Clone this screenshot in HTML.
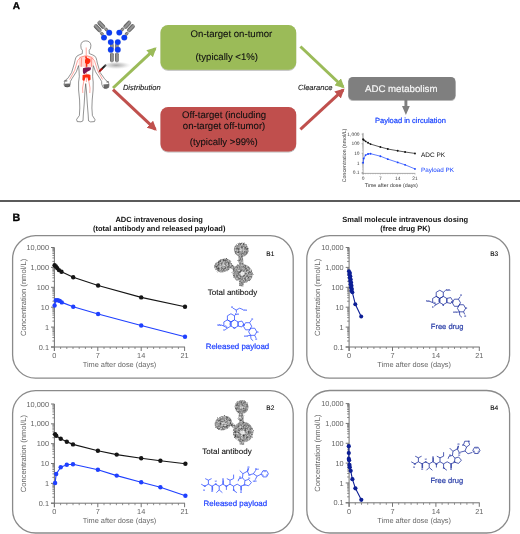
<!DOCTYPE html>
<html><head><meta charset="utf-8"><title>ADC PK figure</title>
<style>html,body{margin:0;padding:0;background:#fff;} svg{display:block;}</style></head>
<body>
<svg width="520" height="534" viewBox="0 0 520 534">
<defs>
<filter id="tex" x="-30%" y="-30%" width="160%" height="160%" color-interpolation-filters="sRGB"><feTurbulence type="fractalNoise" baseFrequency="0.7" numOctaves="2" seed="7" result="n"/><feDisplacementMap in="SourceGraphic" in2="n" scale="2.2" xChannelSelector="R" yChannelSelector="G" result="d"/><feTurbulence type="fractalNoise" baseFrequency="0.6" numOctaves="3" seed="2" result="n2"/><feColorMatrix in="n2" type="matrix" values="0.85 0 0 0 0.15  0.85 0 0 0 0.15  0.85 0 0 0 0.15  0 0 0 0 1" result="g"/><feComposite in="g" in2="d" operator="in"/></filter>
<linearGradient id="cap" x1="0" y1="0" x2="1" y2="0"><stop offset="0" stop-color="#4a4a4a"/><stop offset="0.35" stop-color="#8c8c8c"/><stop offset="0.6" stop-color="#9a9a9a"/><stop offset="1" stop-color="#555"/></linearGradient>
<radialGradient id="shadow" cx="45%" cy="45%" r="55%"><stop offset="0" stop-color="#999" stop-opacity="0.85"/><stop offset="0.5" stop-color="#b8b8b8" stop-opacity="0.55"/><stop offset="1" stop-color="#ddd" stop-opacity="0"/></radialGradient>
<filter id="sh" x="-10%" y="-10%" width="120%" height="130%"><feDropShadow dx="0" dy="0.8" stdDeviation="0.6" flood-color="#000" flood-opacity="0.35"/></filter>
<marker id="ahG" viewBox="0 0 10 10" refX="8" refY="5" markerWidth="3.2" markerHeight="3.2" orient="auto"><path d="M0,0 L10,5 L0,10 Z" fill="#9bbb59"/></marker>
<marker id="ahR" viewBox="0 0 10 10" refX="8" refY="5" markerWidth="3.2" markerHeight="3.2" orient="auto"><path d="M0,0 L10,5 L0,10 Z" fill="#c0504d"/></marker>
</defs>
<rect width="520" height="534" fill="#fff"/>
<g font-family='"Liberation Sans", Arial, sans-serif' text-rendering="geometricPrecision">
<text x="12.7" y="9.3" font-size="10" fill="#000" font-weight="bold" font-style="normal" text-anchor="start" stroke="#000" stroke-width="0.35">A</text>
<path fill="#fff" stroke="#3a3a3a" stroke-width="0.55" stroke-linejoin="round" d="M82.4,50.4 Q80.6,48.8 80.8,45.4 Q81.2,40.9 85.8,40.9 Q90.5,40.9 90.9,45.4 Q91,48.8 89.2,50.4 L89.3,53.6 Q92.2,54.6 94.6,55.9 Q96.4,57.5 96.8,60.5 L97.3,63 L100.2,72.6 L104.3,78.4 L106.6,81 L108.6,82.6 L109,85 L108.6,87.4 L106.4,88.6 L103.2,87.6 L101.8,84.4 L101.6,81.4 L99.8,78.4 L95.5,71.7 L93.3,65.5 L92.9,70 L92.6,76.5 L93.2,82 L93.1,90 L92.2,100 L91.9,108 L92.4,115.5 L95.1,119.8 L94.4,121.6 L90.6,121.9 L88.5,120.8 L88.2,115 L87.3,104 L86.5,92 L85.7,83.6 L84.9,92 L84.2,104 L83.3,115 L83,120.8 L81,121.8 L77.2,121.6 L76.6,119.4 L79.4,115.5 L79.8,108 L79.6,100 L78.6,90 L78.6,82 L79.3,76.5 L79,70 L78.6,65.5 L76.4,71.7 L72.1,78.4 L70.4,81.4 L70.2,84.5 L69.2,86.4 L67.2,87 L64.6,86.2 L64,84.2 L64.6,82.6 L64.3,81.4 L65.6,79.9 L67.8,78.4 L71.6,72.6 L74.5,63 L75,60.5 Q75.4,57.5 77.2,55.9 Q79.5,54.6 82.3,53.6 Z"/>
<path d="M79,56.8 Q86,54.6 93.5,56.8 L93.8,66 Q86,68 78.6,66 Z" fill="#ffb8ae" opacity="0.55"/>
<g stroke="#ff3b2f" fill="none" stroke-width="0.5" opacity="0.9"><path d="M86.2,47.5 L86.4,82"/><path d="M85.6,55.6 Q80,56.6 77.6,60.5 L74.6,70.5 L69.6,79.5"/><path d="M86.8,55.6 Q92,56.6 94.4,60.5 L97.6,70.5 L102.6,79.5"/><path d="M84,80 L82.6,88 L82.8,93"/><path d="M88.6,80 L90,88 L89.8,93"/><path d="M81.6,58 L81.2,67"/><path d="M91.2,58 L91.6,67"/></g>
<path d="M86.2,58 Q88.8,57.6 90.4,59.6 Q91,62.4 88.8,63.8 Q86.4,64.6 85,62.8 Q84.2,60 86.2,58 Z" fill="#ff2a10"/><path d="M85.6,56.4 L86.6,58.8 L86.6,66.8" stroke="#ff2a10" stroke-width="1.5" fill="none"/><path d="M83,68.2 Q87,66.6 91.2,67.4 Q91,70 89.2,70.8 Q86.6,71.8 84.6,74 L83.2,73.4 Q82.6,70.6 83,68.2 Z" fill="#7d1752"/><path d="M82.6,75 Q84.6,74 86.2,74.6 Q88.4,73.8 90.4,75 L90.6,79.6 Q89.6,81 88.2,80.4 L87.4,77.6 L85.4,77.6 L84.6,80.6 Q83,81 82.4,79.8 Z" fill="#ff2a10"/>
<g fill="#444" opacity="0.8"><path d="M64.2,83.8 L69.8,83.4 L70.3,86.4 L68,87 L65,86.9 Z"/><path d="M64.3,80.2 L67.2,79.8 L67.4,81.6 L64.6,81.9 Z" opacity="0.7"/><path d="M103.3,84.4 L108.9,84 L108.6,87.6 L106,88.5 L104,88.4 Z"/><path d="M106.4,81.3 L108.9,81 L108.9,82.6 L106.5,82.7 Z" opacity="0.7"/></g>
<line x1="105.6" y1="65.3" x2="101.4" y2="69.3" stroke="#1e1e1e" stroke-width="1.9" stroke-linecap="round"/><line x1="101.6" y1="69.1" x2="99.7" y2="71.1" stroke="#b3120f" stroke-width="2.1" stroke-linecap="round"/><line x1="99.6" y1="71.2" x2="98.4" y2="72.6" stroke="#888" stroke-width="0.6"/>
<ellipse cx="117.6" cy="65.6" rx="13.5" ry="3.6" fill="url(#shadow)"/>
<g transform="translate(98.06,21.29) rotate(-42.97)"><rect x="-2.1" y="0" width="4.2" height="9.59" rx="2.1" fill="url(#cap)"/></g>
<g transform="translate(94.4,24.69) rotate(-42.97)"><rect x="-2.1" y="0" width="4.2" height="9.59" rx="2.1" fill="url(#cap)"/></g>
<g transform="translate(130.54,21.29) rotate(42.97)"><rect x="-2.1" y="0" width="4.2" height="9.59" rx="2.1" fill="url(#cap)"/></g>
<g transform="translate(134.2,24.69) rotate(42.97)"><rect x="-2.1" y="0" width="4.2" height="9.59" rx="2.1" fill="url(#cap)"/></g>
<g transform="translate(104.6,28) rotate(-48.58)"><rect x="-1.5" y="0" width="3" height="4.53" rx="1.5" fill="url(#cap)"/></g>
<g transform="translate(100.4,32.2) rotate(-45)"><rect x="-1.5" y="0" width="3" height="4.24" rx="1.5" fill="url(#cap)"/></g>
<g transform="translate(124,28) rotate(48.58)"><rect x="-1.5" y="0" width="3" height="4.53" rx="1.5" fill="url(#cap)"/></g>
<g transform="translate(128.2,32.2) rotate(45)"><rect x="-1.5" y="0" width="3" height="4.24" rx="1.5" fill="url(#cap)"/></g>
<g transform="translate(111.9,43) rotate(0)"><rect x="-1.7" y="0" width="3.4" height="7" rx="1.7" fill="url(#cap)"/></g>
<g transform="translate(116.9,43) rotate(0)"><rect x="-1.7" y="0" width="3.4" height="7" rx="1.7" fill="url(#cap)"/></g>
<g transform="translate(111.9,52.4) rotate(0)"><rect x="-1.8" y="0" width="3.6" height="10" rx="1.8" fill="url(#cap)"/></g>
<g transform="translate(116.9,52.4) rotate(0)"><rect x="-1.8" y="0" width="3.6" height="10" rx="1.8" fill="url(#cap)"/></g>
<circle cx="109.2" cy="32.8" r="2.95" fill="#0a3cf5" stroke="#c8b878" stroke-width="0.1"/>
<circle cx="104.0" cy="37.6" r="2.95" fill="#0a3cf5" stroke="#c8b878" stroke-width="0.1"/>
<circle cx="119.3" cy="32.6" r="2.95" fill="#0a3cf5" stroke="#c8b878" stroke-width="0.1"/>
<circle cx="124.3" cy="37.6" r="2.95" fill="#0a3cf5" stroke="#c8b878" stroke-width="0.1"/>
<circle cx="110.8" cy="42.1" r="2.95" fill="#0a3cf5" stroke="#c8b878" stroke-width="0.1"/>
<circle cx="117.8" cy="42.1" r="2.95" fill="#0a3cf5" stroke="#c8b878" stroke-width="0.1"/>
<circle cx="110.8" cy="49.7" r="2.95" fill="#0a3cf5" stroke="#c8b878" stroke-width="0.1"/>
<circle cx="117.8" cy="49.7" r="2.95" fill="#0a3cf5" stroke="#c8b878" stroke-width="0.1"/>
<line x1="113.0" y1="88.0" x2="155.2" y2="48.6" stroke="#9bbb59" stroke-width="3.0" marker-end="url(#ahG)"/>
<line x1="113.0" y1="89.6" x2="155.4" y2="129.4" stroke="#c0504d" stroke-width="3.0" marker-end="url(#ahR)"/>
<line x1="300.4" y1="46.5" x2="343.2" y2="87.0" stroke="#9bbb59" stroke-width="3.0" marker-end="url(#ahG)"/>
<line x1="300.4" y1="129.4" x2="343.2" y2="89.8" stroke="#c0504d" stroke-width="3.0" marker-end="url(#ahR)"/>
<text x="122.9" y="90.2" font-size="7.55" fill="#1a1a1a" font-weight="normal" font-style="italic" text-anchor="start" stroke="#1a1a1a" stroke-width="0.12">Distribution</text>
<text x="298" y="90.1" font-size="7.55" fill="#1a1a1a" font-weight="normal" font-style="italic" text-anchor="start" stroke="#1a1a1a" stroke-width="0.12">Clearance</text>
<rect x="160.5" y="25.0" width="135.7" height="44.8" rx="7.5" fill="#9bbb59" filter="url(#sh)"/>
<text x="190.6" y="36.5" font-size="9.6" fill="#111" font-weight="normal" font-style="normal" text-anchor="start" stroke="#111" stroke-width="0.1">On-target on-tumor</text>
<text x="195.4" y="60.1" font-size="9.6" fill="#111" font-weight="normal" font-style="normal" text-anchor="start" stroke="#111" stroke-width="0.1">(typically &lt;1%)</text>
<rect x="160.5" y="107" width="135.7" height="44.5" rx="7.5" fill="#c0504d" filter="url(#sh)"/>
<text x="182" y="118.2" font-size="9.6" fill="#111" font-weight="normal" font-style="normal" text-anchor="start" stroke="#111" stroke-width="0.1">Off-target (including</text>
<text x="182.8" y="129.4" font-size="9.6" fill="#111" font-weight="normal" font-style="normal" text-anchor="start" stroke="#111" stroke-width="0.1">on-target off-tumor)</text>
<text x="189.8" y="144.6" font-size="9.6" fill="#111" font-weight="normal" font-style="normal" text-anchor="start" stroke="#111" stroke-width="0.1">(typically &gt;99%)</text>
<rect x="348.3" y="77" width="107.2" height="23" rx="4.5" fill="#7f7f7f" filter="url(#sh)"/>
<text x="365" y="92.2" font-size="9.66" fill="#f6f6f6" font-weight="normal" font-style="normal" text-anchor="start" stroke="#f6f6f6" stroke-width="0.2">ADC metabolism</text>
<path d="M404.45,99.5 L407.35,99.5 L407.35,106.1 L409.8,106.1 L405.9,114.9 L402.0,106.1 L404.45,106.1 Z" fill="#7f7f7f"/>
<text x="375" y="122.9" font-size="7.5" fill="#1a44ff" font-weight="normal" font-style="normal" text-anchor="start" stroke="#1a44ff" stroke-width="0.2">Payload in circulation</text>
<line x1="363.1" y1="132.9" x2="363.1" y2="174.5" stroke="#888" stroke-width="0.7"/>
<line x1="361.6" y1="173.4" x2="415.27" y2="173.4" stroke="#888" stroke-width="0.7"/>
<line x1="361.6" y1="134.1" x2="363.1" y2="134.1" stroke="#888" stroke-width="0.6"/>
<line x1="362.2" y1="140.81" x2="363.1" y2="140.81" stroke="#999" stroke-width="0.4"/>
<line x1="362.2" y1="139.12" x2="363.1" y2="139.12" stroke="#999" stroke-width="0.4"/>
<line x1="362.2" y1="137.92" x2="363.1" y2="137.92" stroke="#999" stroke-width="0.4"/>
<line x1="362.2" y1="136.99" x2="363.1" y2="136.99" stroke="#999" stroke-width="0.4"/>
<line x1="362.2" y1="136.23" x2="363.1" y2="136.23" stroke="#999" stroke-width="0.4"/>
<line x1="362.2" y1="135.59" x2="363.1" y2="135.59" stroke="#999" stroke-width="0.4"/>
<line x1="362.2" y1="135.03" x2="363.1" y2="135.03" stroke="#999" stroke-width="0.4"/>
<line x1="362.2" y1="134.54" x2="363.1" y2="134.54" stroke="#999" stroke-width="0.4"/>
<line x1="361.6" y1="143.7" x2="363.1" y2="143.7" stroke="#888" stroke-width="0.6"/>
<line x1="362.2" y1="150.41" x2="363.1" y2="150.41" stroke="#999" stroke-width="0.4"/>
<line x1="362.2" y1="148.72" x2="363.1" y2="148.72" stroke="#999" stroke-width="0.4"/>
<line x1="362.2" y1="147.52" x2="363.1" y2="147.52" stroke="#999" stroke-width="0.4"/>
<line x1="362.2" y1="146.59" x2="363.1" y2="146.59" stroke="#999" stroke-width="0.4"/>
<line x1="362.2" y1="145.83" x2="363.1" y2="145.83" stroke="#999" stroke-width="0.4"/>
<line x1="362.2" y1="145.19" x2="363.1" y2="145.19" stroke="#999" stroke-width="0.4"/>
<line x1="362.2" y1="144.63" x2="363.1" y2="144.63" stroke="#999" stroke-width="0.4"/>
<line x1="362.2" y1="144.14" x2="363.1" y2="144.14" stroke="#999" stroke-width="0.4"/>
<line x1="361.6" y1="153.3" x2="363.1" y2="153.3" stroke="#888" stroke-width="0.6"/>
<line x1="362.2" y1="160.01" x2="363.1" y2="160.01" stroke="#999" stroke-width="0.4"/>
<line x1="362.2" y1="158.32" x2="363.1" y2="158.32" stroke="#999" stroke-width="0.4"/>
<line x1="362.2" y1="157.12" x2="363.1" y2="157.12" stroke="#999" stroke-width="0.4"/>
<line x1="362.2" y1="156.19" x2="363.1" y2="156.19" stroke="#999" stroke-width="0.4"/>
<line x1="362.2" y1="155.43" x2="363.1" y2="155.43" stroke="#999" stroke-width="0.4"/>
<line x1="362.2" y1="154.79" x2="363.1" y2="154.79" stroke="#999" stroke-width="0.4"/>
<line x1="362.2" y1="154.23" x2="363.1" y2="154.23" stroke="#999" stroke-width="0.4"/>
<line x1="362.2" y1="153.74" x2="363.1" y2="153.74" stroke="#999" stroke-width="0.4"/>
<line x1="361.6" y1="162.9" x2="363.1" y2="162.9" stroke="#888" stroke-width="0.6"/>
<line x1="362.2" y1="169.61" x2="363.1" y2="169.61" stroke="#999" stroke-width="0.4"/>
<line x1="362.2" y1="167.92" x2="363.1" y2="167.92" stroke="#999" stroke-width="0.4"/>
<line x1="362.2" y1="166.72" x2="363.1" y2="166.72" stroke="#999" stroke-width="0.4"/>
<line x1="362.2" y1="165.79" x2="363.1" y2="165.79" stroke="#999" stroke-width="0.4"/>
<line x1="362.2" y1="165.03" x2="363.1" y2="165.03" stroke="#999" stroke-width="0.4"/>
<line x1="362.2" y1="164.39" x2="363.1" y2="164.39" stroke="#999" stroke-width="0.4"/>
<line x1="362.2" y1="163.83" x2="363.1" y2="163.83" stroke="#999" stroke-width="0.4"/>
<line x1="362.2" y1="163.34" x2="363.1" y2="163.34" stroke="#999" stroke-width="0.4"/>
<line x1="361.6" y1="172.5" x2="363.1" y2="172.5" stroke="#888" stroke-width="0.6"/>
<line x1="363.1" y1="173.4" x2="363.1" y2="175.1" stroke="#999" stroke-width="0.4"/>
<line x1="365.57" y1="173.4" x2="365.57" y2="174.3" stroke="#999" stroke-width="0.4"/>
<line x1="368.04" y1="173.4" x2="368.04" y2="174.3" stroke="#999" stroke-width="0.4"/>
<line x1="370.51" y1="173.4" x2="370.51" y2="174.3" stroke="#999" stroke-width="0.4"/>
<line x1="372.98" y1="173.4" x2="372.98" y2="174.3" stroke="#999" stroke-width="0.4"/>
<line x1="375.45" y1="173.4" x2="375.45" y2="174.3" stroke="#999" stroke-width="0.4"/>
<line x1="377.92" y1="173.4" x2="377.92" y2="174.3" stroke="#999" stroke-width="0.4"/>
<line x1="380.39" y1="173.4" x2="380.39" y2="175.1" stroke="#999" stroke-width="0.4"/>
<line x1="382.86" y1="173.4" x2="382.86" y2="174.3" stroke="#999" stroke-width="0.4"/>
<line x1="385.33" y1="173.4" x2="385.33" y2="174.3" stroke="#999" stroke-width="0.4"/>
<line x1="387.8" y1="173.4" x2="387.8" y2="174.3" stroke="#999" stroke-width="0.4"/>
<line x1="390.27" y1="173.4" x2="390.27" y2="174.3" stroke="#999" stroke-width="0.4"/>
<line x1="392.74" y1="173.4" x2="392.74" y2="174.3" stroke="#999" stroke-width="0.4"/>
<line x1="395.21" y1="173.4" x2="395.21" y2="174.3" stroke="#999" stroke-width="0.4"/>
<line x1="397.68" y1="173.4" x2="397.68" y2="175.1" stroke="#999" stroke-width="0.4"/>
<line x1="400.15" y1="173.4" x2="400.15" y2="174.3" stroke="#999" stroke-width="0.4"/>
<line x1="402.62" y1="173.4" x2="402.62" y2="174.3" stroke="#999" stroke-width="0.4"/>
<line x1="405.09" y1="173.4" x2="405.09" y2="174.3" stroke="#999" stroke-width="0.4"/>
<line x1="407.56" y1="173.4" x2="407.56" y2="174.3" stroke="#999" stroke-width="0.4"/>
<line x1="410.03" y1="173.4" x2="410.03" y2="174.3" stroke="#999" stroke-width="0.4"/>
<line x1="412.5" y1="173.4" x2="412.5" y2="174.3" stroke="#999" stroke-width="0.4"/>
<line x1="414.97" y1="173.4" x2="414.97" y2="175.1" stroke="#999" stroke-width="0.4"/>
<text x="359.6" y="135.8" font-size="4.9" fill="#333" font-weight="normal" font-style="normal" text-anchor="end" >1,000</text>
<text x="359.6" y="145.4" font-size="4.9" fill="#333" font-weight="normal" font-style="normal" text-anchor="end" >100</text>
<text x="359.6" y="155" font-size="4.9" fill="#333" font-weight="normal" font-style="normal" text-anchor="end" >10</text>
<text x="359.6" y="164.6" font-size="4.9" fill="#333" font-weight="normal" font-style="normal" text-anchor="end" >1</text>
<text x="359.6" y="174.2" font-size="4.9" fill="#333" font-weight="normal" font-style="normal" text-anchor="end" >0.1</text>
<text x="363.1" y="180.3" font-size="4.9" fill="#333" font-weight="normal" font-style="normal" text-anchor="middle" >0</text>
<text x="380.39" y="180.3" font-size="4.9" fill="#333" font-weight="normal" font-style="normal" text-anchor="middle" >7</text>
<text x="397.68" y="180.3" font-size="4.9" fill="#333" font-weight="normal" font-style="normal" text-anchor="middle" >14</text>
<text x="414.97" y="180.3" font-size="4.9" fill="#333" font-weight="normal" font-style="normal" text-anchor="middle" >21</text>
<text x="391.2" y="187" font-size="5.34" fill="#333" font-weight="normal" font-style="normal" text-anchor="middle" >Time after dose (days)</text>
<text transform="translate(345.8,155.4) rotate(-90)" font-size="5.27" fill="#333" text-anchor="middle">Concentration (nmol/L)</text>
<polyline points="363.1,139.19 363.72,139.88 365.57,141.34 368.04,142.74 370.51,144.09 380.39,147.03 387.8,149.01 397.68,150.78 405.09,151.99 414.97,153.43" fill="none" stroke="#111" stroke-width="0.7" stroke-linejoin="round"/>
<circle cx="363.1" cy="139.19" r="0.95" fill="#111"/><circle cx="363.72" cy="139.88" r="0.95" fill="#111"/><circle cx="365.57" cy="141.34" r="0.95" fill="#111"/><circle cx="368.04" cy="142.74" r="0.95" fill="#111"/><circle cx="370.51" cy="144.09" r="0.95" fill="#111"/><circle cx="380.39" cy="147.03" r="0.95" fill="#111"/><circle cx="387.8" cy="149.01" r="0.95" fill="#111"/><circle cx="397.68" cy="150.78" r="0.95" fill="#111"/><circle cx="405.09" cy="151.99" r="0.95" fill="#111"/><circle cx="414.97" cy="153.43" r="0.95" fill="#111"/>
<polyline points="363.1,162.74 363.72,158.46 365.57,155.1 368.04,153.93 370.51,153.69 380.39,156.19 387.8,159.15 397.68,162.39 405.09,164.83 414.97,168.92" fill="none" stroke="#1a44ff" stroke-width="0.7" stroke-linejoin="round"/>
<circle cx="363.1" cy="162.74" r="0.95" fill="#1a44ff"/><circle cx="363.72" cy="158.46" r="0.95" fill="#1a44ff"/><circle cx="365.57" cy="155.1" r="0.95" fill="#1a44ff"/><circle cx="368.04" cy="153.93" r="0.95" fill="#1a44ff"/><circle cx="370.51" cy="153.69" r="0.95" fill="#1a44ff"/><circle cx="380.39" cy="156.19" r="0.95" fill="#1a44ff"/><circle cx="387.8" cy="159.15" r="0.95" fill="#1a44ff"/><circle cx="397.68" cy="162.39" r="0.95" fill="#1a44ff"/><circle cx="405.09" cy="164.83" r="0.95" fill="#1a44ff"/><circle cx="414.97" cy="168.92" r="0.95" fill="#1a44ff"/>
<text x="421" y="157" font-size="6.45" fill="#111" font-weight="normal" font-style="normal" text-anchor="start" >ADC PK</text>
<text x="421" y="171.6" font-size="6.32" fill="#1a44ff" font-weight="normal" font-style="normal" text-anchor="start" >Payload PK</text>
<rect x="0" y="200.1" width="520" height="1.8" fill="#4a4a4a"/>
<text x="12.6" y="220.9" font-size="10.7" fill="#000" font-weight="bold" font-style="normal" text-anchor="start" stroke="#000" stroke-width="0.3">B</text>
<text x="159.2" y="222.3" font-size="7.5" fill="#111" font-weight="bold" font-style="normal" text-anchor="middle" >ADC intravenous dosing</text>
<text x="159.2" y="230.9" font-size="7.5" fill="#111" font-weight="bold" font-style="normal" text-anchor="middle" >(total antibody and released payload)</text>
<text x="405.2" y="222.3" font-size="7.5" fill="#111" font-weight="bold" font-style="normal" text-anchor="middle" >Small molecule intravenous dosing</text>
<text x="405.2" y="230.9" font-size="7.5" fill="#111" font-weight="bold" font-style="normal" text-anchor="middle" >(free drug PK)</text>
<rect x="12.6" y="235.7" width="280.6" height="142.4" rx="23" ry="23" fill="none" stroke="#8a8a8a" stroke-width="1.3"/>
<rect x="306.8" y="235.7" width="202.8" height="142.5" rx="23" ry="23" fill="none" stroke="#8a8a8a" stroke-width="1.3"/>
<rect x="12.6" y="390.6" width="280.6" height="142.4" rx="23" ry="23" fill="none" stroke="#8a8a8a" stroke-width="1.3"/>
<rect x="306.8" y="390.5" width="202.8" height="142.5" rx="23" ry="23" fill="none" stroke="#8a8a8a" stroke-width="1.3"/>
<line x1="54.4" y1="247.5" x2="54.4" y2="351" stroke="#737373" stroke-width="1"/>
<line x1="51" y1="347" x2="185" y2="347" stroke="#737373" stroke-width="1"/>
<line x1="51" y1="347" x2="54.4" y2="347" stroke="#737373" stroke-width="1"/>
<line x1="52.4" y1="341.01" x2="54.4" y2="341.01" stroke="#737373" stroke-width="0.85"/>
<line x1="52.4" y1="337.51" x2="54.4" y2="337.51" stroke="#737373" stroke-width="0.85"/>
<line x1="52.4" y1="335.02" x2="54.4" y2="335.02" stroke="#737373" stroke-width="0.85"/>
<line x1="52.4" y1="333.09" x2="54.4" y2="333.09" stroke="#737373" stroke-width="0.85"/>
<line x1="52.4" y1="331.51" x2="54.4" y2="331.51" stroke="#737373" stroke-width="0.85"/>
<line x1="52.4" y1="330.18" x2="54.4" y2="330.18" stroke="#737373" stroke-width="0.85"/>
<line x1="52.4" y1="329.03" x2="54.4" y2="329.03" stroke="#737373" stroke-width="0.85"/>
<line x1="52.4" y1="328.01" x2="54.4" y2="328.01" stroke="#737373" stroke-width="0.85"/>
<line x1="51" y1="327.1" x2="54.4" y2="327.1" stroke="#737373" stroke-width="1"/>
<line x1="52.4" y1="321.11" x2="54.4" y2="321.11" stroke="#737373" stroke-width="0.85"/>
<line x1="52.4" y1="317.61" x2="54.4" y2="317.61" stroke="#737373" stroke-width="0.85"/>
<line x1="52.4" y1="315.12" x2="54.4" y2="315.12" stroke="#737373" stroke-width="0.85"/>
<line x1="52.4" y1="313.19" x2="54.4" y2="313.19" stroke="#737373" stroke-width="0.85"/>
<line x1="52.4" y1="311.61" x2="54.4" y2="311.61" stroke="#737373" stroke-width="0.85"/>
<line x1="52.4" y1="310.28" x2="54.4" y2="310.28" stroke="#737373" stroke-width="0.85"/>
<line x1="52.4" y1="309.13" x2="54.4" y2="309.13" stroke="#737373" stroke-width="0.85"/>
<line x1="52.4" y1="308.11" x2="54.4" y2="308.11" stroke="#737373" stroke-width="0.85"/>
<line x1="51" y1="307.2" x2="54.4" y2="307.2" stroke="#737373" stroke-width="1"/>
<line x1="52.4" y1="301.21" x2="54.4" y2="301.21" stroke="#737373" stroke-width="0.85"/>
<line x1="52.4" y1="297.71" x2="54.4" y2="297.71" stroke="#737373" stroke-width="0.85"/>
<line x1="52.4" y1="295.22" x2="54.4" y2="295.22" stroke="#737373" stroke-width="0.85"/>
<line x1="52.4" y1="293.29" x2="54.4" y2="293.29" stroke="#737373" stroke-width="0.85"/>
<line x1="52.4" y1="291.71" x2="54.4" y2="291.71" stroke="#737373" stroke-width="0.85"/>
<line x1="52.4" y1="290.38" x2="54.4" y2="290.38" stroke="#737373" stroke-width="0.85"/>
<line x1="52.4" y1="289.23" x2="54.4" y2="289.23" stroke="#737373" stroke-width="0.85"/>
<line x1="52.4" y1="288.21" x2="54.4" y2="288.21" stroke="#737373" stroke-width="0.85"/>
<line x1="51" y1="287.3" x2="54.4" y2="287.3" stroke="#737373" stroke-width="1"/>
<line x1="52.4" y1="281.31" x2="54.4" y2="281.31" stroke="#737373" stroke-width="0.85"/>
<line x1="52.4" y1="277.81" x2="54.4" y2="277.81" stroke="#737373" stroke-width="0.85"/>
<line x1="52.4" y1="275.32" x2="54.4" y2="275.32" stroke="#737373" stroke-width="0.85"/>
<line x1="52.4" y1="273.39" x2="54.4" y2="273.39" stroke="#737373" stroke-width="0.85"/>
<line x1="52.4" y1="271.81" x2="54.4" y2="271.81" stroke="#737373" stroke-width="0.85"/>
<line x1="52.4" y1="270.48" x2="54.4" y2="270.48" stroke="#737373" stroke-width="0.85"/>
<line x1="52.4" y1="269.33" x2="54.4" y2="269.33" stroke="#737373" stroke-width="0.85"/>
<line x1="52.4" y1="268.31" x2="54.4" y2="268.31" stroke="#737373" stroke-width="0.85"/>
<line x1="51" y1="267.4" x2="54.4" y2="267.4" stroke="#737373" stroke-width="1"/>
<line x1="52.4" y1="261.41" x2="54.4" y2="261.41" stroke="#737373" stroke-width="0.85"/>
<line x1="52.4" y1="257.91" x2="54.4" y2="257.91" stroke="#737373" stroke-width="0.85"/>
<line x1="52.4" y1="255.42" x2="54.4" y2="255.42" stroke="#737373" stroke-width="0.85"/>
<line x1="52.4" y1="253.49" x2="54.4" y2="253.49" stroke="#737373" stroke-width="0.85"/>
<line x1="52.4" y1="251.91" x2="54.4" y2="251.91" stroke="#737373" stroke-width="0.85"/>
<line x1="52.4" y1="250.58" x2="54.4" y2="250.58" stroke="#737373" stroke-width="0.85"/>
<line x1="52.4" y1="249.43" x2="54.4" y2="249.43" stroke="#737373" stroke-width="0.85"/>
<line x1="52.4" y1="248.41" x2="54.4" y2="248.41" stroke="#737373" stroke-width="0.85"/>
<line x1="51" y1="247.5" x2="54.4" y2="247.5" stroke="#737373" stroke-width="1"/>
<line x1="54.4" y1="347" x2="54.4" y2="351" stroke="#737373" stroke-width="1"/>
<line x1="60.6" y1="347" x2="60.6" y2="349" stroke="#737373" stroke-width="0.8"/>
<line x1="66.8" y1="347" x2="66.8" y2="349" stroke="#737373" stroke-width="0.8"/>
<line x1="73" y1="347" x2="73" y2="349" stroke="#737373" stroke-width="0.8"/>
<line x1="79.2" y1="347" x2="79.2" y2="349" stroke="#737373" stroke-width="0.8"/>
<line x1="85.4" y1="347" x2="85.4" y2="349" stroke="#737373" stroke-width="0.8"/>
<line x1="91.6" y1="347" x2="91.6" y2="349" stroke="#737373" stroke-width="0.8"/>
<line x1="97.8" y1="347" x2="97.8" y2="351" stroke="#737373" stroke-width="1"/>
<line x1="104" y1="347" x2="104" y2="349" stroke="#737373" stroke-width="0.8"/>
<line x1="110.2" y1="347" x2="110.2" y2="349" stroke="#737373" stroke-width="0.8"/>
<line x1="116.4" y1="347" x2="116.4" y2="349" stroke="#737373" stroke-width="0.8"/>
<line x1="122.6" y1="347" x2="122.6" y2="349" stroke="#737373" stroke-width="0.8"/>
<line x1="128.8" y1="347" x2="128.8" y2="349" stroke="#737373" stroke-width="0.8"/>
<line x1="135" y1="347" x2="135" y2="349" stroke="#737373" stroke-width="0.8"/>
<line x1="141.2" y1="347" x2="141.2" y2="351" stroke="#737373" stroke-width="1"/>
<line x1="147.4" y1="347" x2="147.4" y2="349" stroke="#737373" stroke-width="0.8"/>
<line x1="153.6" y1="347" x2="153.6" y2="349" stroke="#737373" stroke-width="0.8"/>
<line x1="159.8" y1="347" x2="159.8" y2="349" stroke="#737373" stroke-width="0.8"/>
<line x1="166" y1="347" x2="166" y2="349" stroke="#737373" stroke-width="0.8"/>
<line x1="172.2" y1="347" x2="172.2" y2="349" stroke="#737373" stroke-width="0.8"/>
<line x1="178.4" y1="347" x2="178.4" y2="349" stroke="#737373" stroke-width="0.8"/>
<line x1="184.6" y1="347" x2="184.6" y2="351" stroke="#737373" stroke-width="1"/>
<text x="49" y="349.6" font-size="7.35" fill="#666" font-weight="normal" font-style="normal" text-anchor="end" >0.1</text>
<text x="49" y="329.7" font-size="7.35" fill="#666" font-weight="normal" font-style="normal" text-anchor="end" >1</text>
<text x="49" y="309.8" font-size="7.35" fill="#666" font-weight="normal" font-style="normal" text-anchor="end" >10</text>
<text x="49" y="289.9" font-size="7.35" fill="#666" font-weight="normal" font-style="normal" text-anchor="end" >100</text>
<text x="49" y="270" font-size="7.35" fill="#666" font-weight="normal" font-style="normal" text-anchor="end" >1,000</text>
<text x="49" y="250.1" font-size="7.35" fill="#666" font-weight="normal" font-style="normal" text-anchor="end" >10,000</text>
<text x="54.4" y="358.1" font-size="7.35" fill="#666" font-weight="normal" font-style="normal" text-anchor="middle" >0</text>
<text x="97.8" y="358.1" font-size="7.35" fill="#666" font-weight="normal" font-style="normal" text-anchor="middle" >7</text>
<text x="141.2" y="358.1" font-size="7.35" fill="#666" font-weight="normal" font-style="normal" text-anchor="middle" >14</text>
<text x="184.6" y="358.1" font-size="7.35" fill="#666" font-weight="normal" font-style="normal" text-anchor="middle" >21</text>
<text x="119.5" y="367.2" font-size="7.4" fill="#666" font-weight="normal" font-style="normal" text-anchor="middle" >Time after dose (days)</text>
<text transform="translate(25.6,297.4) rotate(-90)" font-size="7.6" fill="#666" text-anchor="middle">Concentration (nmol/L)</text>
<line x1="349.1" y1="247.5" x2="349.1" y2="351" stroke="#737373" stroke-width="1"/>
<line x1="345.7" y1="347" x2="479.7" y2="347" stroke="#737373" stroke-width="1"/>
<line x1="345.7" y1="347" x2="349.1" y2="347" stroke="#737373" stroke-width="1"/>
<line x1="347.1" y1="341.01" x2="349.1" y2="341.01" stroke="#737373" stroke-width="0.85"/>
<line x1="347.1" y1="337.51" x2="349.1" y2="337.51" stroke="#737373" stroke-width="0.85"/>
<line x1="347.1" y1="335.02" x2="349.1" y2="335.02" stroke="#737373" stroke-width="0.85"/>
<line x1="347.1" y1="333.09" x2="349.1" y2="333.09" stroke="#737373" stroke-width="0.85"/>
<line x1="347.1" y1="331.51" x2="349.1" y2="331.51" stroke="#737373" stroke-width="0.85"/>
<line x1="347.1" y1="330.18" x2="349.1" y2="330.18" stroke="#737373" stroke-width="0.85"/>
<line x1="347.1" y1="329.03" x2="349.1" y2="329.03" stroke="#737373" stroke-width="0.85"/>
<line x1="347.1" y1="328.01" x2="349.1" y2="328.01" stroke="#737373" stroke-width="0.85"/>
<line x1="345.7" y1="327.1" x2="349.1" y2="327.1" stroke="#737373" stroke-width="1"/>
<line x1="347.1" y1="321.11" x2="349.1" y2="321.11" stroke="#737373" stroke-width="0.85"/>
<line x1="347.1" y1="317.61" x2="349.1" y2="317.61" stroke="#737373" stroke-width="0.85"/>
<line x1="347.1" y1="315.12" x2="349.1" y2="315.12" stroke="#737373" stroke-width="0.85"/>
<line x1="347.1" y1="313.19" x2="349.1" y2="313.19" stroke="#737373" stroke-width="0.85"/>
<line x1="347.1" y1="311.61" x2="349.1" y2="311.61" stroke="#737373" stroke-width="0.85"/>
<line x1="347.1" y1="310.28" x2="349.1" y2="310.28" stroke="#737373" stroke-width="0.85"/>
<line x1="347.1" y1="309.13" x2="349.1" y2="309.13" stroke="#737373" stroke-width="0.85"/>
<line x1="347.1" y1="308.11" x2="349.1" y2="308.11" stroke="#737373" stroke-width="0.85"/>
<line x1="345.7" y1="307.2" x2="349.1" y2="307.2" stroke="#737373" stroke-width="1"/>
<line x1="347.1" y1="301.21" x2="349.1" y2="301.21" stroke="#737373" stroke-width="0.85"/>
<line x1="347.1" y1="297.71" x2="349.1" y2="297.71" stroke="#737373" stroke-width="0.85"/>
<line x1="347.1" y1="295.22" x2="349.1" y2="295.22" stroke="#737373" stroke-width="0.85"/>
<line x1="347.1" y1="293.29" x2="349.1" y2="293.29" stroke="#737373" stroke-width="0.85"/>
<line x1="347.1" y1="291.71" x2="349.1" y2="291.71" stroke="#737373" stroke-width="0.85"/>
<line x1="347.1" y1="290.38" x2="349.1" y2="290.38" stroke="#737373" stroke-width="0.85"/>
<line x1="347.1" y1="289.23" x2="349.1" y2="289.23" stroke="#737373" stroke-width="0.85"/>
<line x1="347.1" y1="288.21" x2="349.1" y2="288.21" stroke="#737373" stroke-width="0.85"/>
<line x1="345.7" y1="287.3" x2="349.1" y2="287.3" stroke="#737373" stroke-width="1"/>
<line x1="347.1" y1="281.31" x2="349.1" y2="281.31" stroke="#737373" stroke-width="0.85"/>
<line x1="347.1" y1="277.81" x2="349.1" y2="277.81" stroke="#737373" stroke-width="0.85"/>
<line x1="347.1" y1="275.32" x2="349.1" y2="275.32" stroke="#737373" stroke-width="0.85"/>
<line x1="347.1" y1="273.39" x2="349.1" y2="273.39" stroke="#737373" stroke-width="0.85"/>
<line x1="347.1" y1="271.81" x2="349.1" y2="271.81" stroke="#737373" stroke-width="0.85"/>
<line x1="347.1" y1="270.48" x2="349.1" y2="270.48" stroke="#737373" stroke-width="0.85"/>
<line x1="347.1" y1="269.33" x2="349.1" y2="269.33" stroke="#737373" stroke-width="0.85"/>
<line x1="347.1" y1="268.31" x2="349.1" y2="268.31" stroke="#737373" stroke-width="0.85"/>
<line x1="345.7" y1="267.4" x2="349.1" y2="267.4" stroke="#737373" stroke-width="1"/>
<line x1="347.1" y1="261.41" x2="349.1" y2="261.41" stroke="#737373" stroke-width="0.85"/>
<line x1="347.1" y1="257.91" x2="349.1" y2="257.91" stroke="#737373" stroke-width="0.85"/>
<line x1="347.1" y1="255.42" x2="349.1" y2="255.42" stroke="#737373" stroke-width="0.85"/>
<line x1="347.1" y1="253.49" x2="349.1" y2="253.49" stroke="#737373" stroke-width="0.85"/>
<line x1="347.1" y1="251.91" x2="349.1" y2="251.91" stroke="#737373" stroke-width="0.85"/>
<line x1="347.1" y1="250.58" x2="349.1" y2="250.58" stroke="#737373" stroke-width="0.85"/>
<line x1="347.1" y1="249.43" x2="349.1" y2="249.43" stroke="#737373" stroke-width="0.85"/>
<line x1="347.1" y1="248.41" x2="349.1" y2="248.41" stroke="#737373" stroke-width="0.85"/>
<line x1="345.7" y1="247.5" x2="349.1" y2="247.5" stroke="#737373" stroke-width="1"/>
<line x1="349.1" y1="347" x2="349.1" y2="351" stroke="#737373" stroke-width="1"/>
<line x1="355.3" y1="347" x2="355.3" y2="349" stroke="#737373" stroke-width="0.8"/>
<line x1="361.5" y1="347" x2="361.5" y2="349" stroke="#737373" stroke-width="0.8"/>
<line x1="367.7" y1="347" x2="367.7" y2="349" stroke="#737373" stroke-width="0.8"/>
<line x1="373.9" y1="347" x2="373.9" y2="349" stroke="#737373" stroke-width="0.8"/>
<line x1="380.1" y1="347" x2="380.1" y2="349" stroke="#737373" stroke-width="0.8"/>
<line x1="386.3" y1="347" x2="386.3" y2="349" stroke="#737373" stroke-width="0.8"/>
<line x1="392.5" y1="347" x2="392.5" y2="351" stroke="#737373" stroke-width="1"/>
<line x1="398.7" y1="347" x2="398.7" y2="349" stroke="#737373" stroke-width="0.8"/>
<line x1="404.9" y1="347" x2="404.9" y2="349" stroke="#737373" stroke-width="0.8"/>
<line x1="411.1" y1="347" x2="411.1" y2="349" stroke="#737373" stroke-width="0.8"/>
<line x1="417.3" y1="347" x2="417.3" y2="349" stroke="#737373" stroke-width="0.8"/>
<line x1="423.5" y1="347" x2="423.5" y2="349" stroke="#737373" stroke-width="0.8"/>
<line x1="429.7" y1="347" x2="429.7" y2="349" stroke="#737373" stroke-width="0.8"/>
<line x1="435.9" y1="347" x2="435.9" y2="351" stroke="#737373" stroke-width="1"/>
<line x1="442.1" y1="347" x2="442.1" y2="349" stroke="#737373" stroke-width="0.8"/>
<line x1="448.3" y1="347" x2="448.3" y2="349" stroke="#737373" stroke-width="0.8"/>
<line x1="454.5" y1="347" x2="454.5" y2="349" stroke="#737373" stroke-width="0.8"/>
<line x1="460.7" y1="347" x2="460.7" y2="349" stroke="#737373" stroke-width="0.8"/>
<line x1="466.9" y1="347" x2="466.9" y2="349" stroke="#737373" stroke-width="0.8"/>
<line x1="473.1" y1="347" x2="473.1" y2="349" stroke="#737373" stroke-width="0.8"/>
<line x1="479.3" y1="347" x2="479.3" y2="351" stroke="#737373" stroke-width="1"/>
<text x="343.7" y="349.6" font-size="7.35" fill="#666" font-weight="normal" font-style="normal" text-anchor="end" >0.1</text>
<text x="343.7" y="329.7" font-size="7.35" fill="#666" font-weight="normal" font-style="normal" text-anchor="end" >1</text>
<text x="343.7" y="309.8" font-size="7.35" fill="#666" font-weight="normal" font-style="normal" text-anchor="end" >10</text>
<text x="343.7" y="289.9" font-size="7.35" fill="#666" font-weight="normal" font-style="normal" text-anchor="end" >100</text>
<text x="343.7" y="270" font-size="7.35" fill="#666" font-weight="normal" font-style="normal" text-anchor="end" >1,000</text>
<text x="343.7" y="250.1" font-size="7.35" fill="#666" font-weight="normal" font-style="normal" text-anchor="end" >10,000</text>
<text x="349.1" y="358.1" font-size="7.35" fill="#666" font-weight="normal" font-style="normal" text-anchor="middle" >0</text>
<text x="392.5" y="358.1" font-size="7.35" fill="#666" font-weight="normal" font-style="normal" text-anchor="middle" >7</text>
<text x="435.9" y="358.1" font-size="7.35" fill="#666" font-weight="normal" font-style="normal" text-anchor="middle" >14</text>
<text x="479.3" y="358.1" font-size="7.35" fill="#666" font-weight="normal" font-style="normal" text-anchor="middle" >21</text>
<text x="414.2" y="367.2" font-size="7.4" fill="#666" font-weight="normal" font-style="normal" text-anchor="middle" >Time after dose (days)</text>
<text transform="translate(320.3,297.4) rotate(-90)" font-size="7.6" fill="#666" text-anchor="middle">Concentration (nmol/L)</text>
<line x1="54.4" y1="404" x2="54.4" y2="507.2" stroke="#737373" stroke-width="1"/>
<line x1="51" y1="503.2" x2="185" y2="503.2" stroke="#737373" stroke-width="1"/>
<line x1="51" y1="503.2" x2="54.4" y2="503.2" stroke="#737373" stroke-width="1"/>
<line x1="52.4" y1="497.23" x2="54.4" y2="497.23" stroke="#737373" stroke-width="0.85"/>
<line x1="52.4" y1="493.73" x2="54.4" y2="493.73" stroke="#737373" stroke-width="0.85"/>
<line x1="52.4" y1="491.26" x2="54.4" y2="491.26" stroke="#737373" stroke-width="0.85"/>
<line x1="52.4" y1="489.33" x2="54.4" y2="489.33" stroke="#737373" stroke-width="0.85"/>
<line x1="52.4" y1="487.76" x2="54.4" y2="487.76" stroke="#737373" stroke-width="0.85"/>
<line x1="52.4" y1="486.43" x2="54.4" y2="486.43" stroke="#737373" stroke-width="0.85"/>
<line x1="52.4" y1="485.28" x2="54.4" y2="485.28" stroke="#737373" stroke-width="0.85"/>
<line x1="52.4" y1="484.27" x2="54.4" y2="484.27" stroke="#737373" stroke-width="0.85"/>
<line x1="51" y1="483.36" x2="54.4" y2="483.36" stroke="#737373" stroke-width="1"/>
<line x1="52.4" y1="477.39" x2="54.4" y2="477.39" stroke="#737373" stroke-width="0.85"/>
<line x1="52.4" y1="473.89" x2="54.4" y2="473.89" stroke="#737373" stroke-width="0.85"/>
<line x1="52.4" y1="471.42" x2="54.4" y2="471.42" stroke="#737373" stroke-width="0.85"/>
<line x1="52.4" y1="469.49" x2="54.4" y2="469.49" stroke="#737373" stroke-width="0.85"/>
<line x1="52.4" y1="467.92" x2="54.4" y2="467.92" stroke="#737373" stroke-width="0.85"/>
<line x1="52.4" y1="466.59" x2="54.4" y2="466.59" stroke="#737373" stroke-width="0.85"/>
<line x1="52.4" y1="465.44" x2="54.4" y2="465.44" stroke="#737373" stroke-width="0.85"/>
<line x1="52.4" y1="464.43" x2="54.4" y2="464.43" stroke="#737373" stroke-width="0.85"/>
<line x1="51" y1="463.52" x2="54.4" y2="463.52" stroke="#737373" stroke-width="1"/>
<line x1="52.4" y1="457.55" x2="54.4" y2="457.55" stroke="#737373" stroke-width="0.85"/>
<line x1="52.4" y1="454.05" x2="54.4" y2="454.05" stroke="#737373" stroke-width="0.85"/>
<line x1="52.4" y1="451.58" x2="54.4" y2="451.58" stroke="#737373" stroke-width="0.85"/>
<line x1="52.4" y1="449.65" x2="54.4" y2="449.65" stroke="#737373" stroke-width="0.85"/>
<line x1="52.4" y1="448.08" x2="54.4" y2="448.08" stroke="#737373" stroke-width="0.85"/>
<line x1="52.4" y1="446.75" x2="54.4" y2="446.75" stroke="#737373" stroke-width="0.85"/>
<line x1="52.4" y1="445.6" x2="54.4" y2="445.6" stroke="#737373" stroke-width="0.85"/>
<line x1="52.4" y1="444.59" x2="54.4" y2="444.59" stroke="#737373" stroke-width="0.85"/>
<line x1="51" y1="443.68" x2="54.4" y2="443.68" stroke="#737373" stroke-width="1"/>
<line x1="52.4" y1="437.71" x2="54.4" y2="437.71" stroke="#737373" stroke-width="0.85"/>
<line x1="52.4" y1="434.21" x2="54.4" y2="434.21" stroke="#737373" stroke-width="0.85"/>
<line x1="52.4" y1="431.74" x2="54.4" y2="431.74" stroke="#737373" stroke-width="0.85"/>
<line x1="52.4" y1="429.81" x2="54.4" y2="429.81" stroke="#737373" stroke-width="0.85"/>
<line x1="52.4" y1="428.24" x2="54.4" y2="428.24" stroke="#737373" stroke-width="0.85"/>
<line x1="52.4" y1="426.91" x2="54.4" y2="426.91" stroke="#737373" stroke-width="0.85"/>
<line x1="52.4" y1="425.76" x2="54.4" y2="425.76" stroke="#737373" stroke-width="0.85"/>
<line x1="52.4" y1="424.75" x2="54.4" y2="424.75" stroke="#737373" stroke-width="0.85"/>
<line x1="51" y1="423.84" x2="54.4" y2="423.84" stroke="#737373" stroke-width="1"/>
<line x1="52.4" y1="417.87" x2="54.4" y2="417.87" stroke="#737373" stroke-width="0.85"/>
<line x1="52.4" y1="414.37" x2="54.4" y2="414.37" stroke="#737373" stroke-width="0.85"/>
<line x1="52.4" y1="411.9" x2="54.4" y2="411.9" stroke="#737373" stroke-width="0.85"/>
<line x1="52.4" y1="409.97" x2="54.4" y2="409.97" stroke="#737373" stroke-width="0.85"/>
<line x1="52.4" y1="408.4" x2="54.4" y2="408.4" stroke="#737373" stroke-width="0.85"/>
<line x1="52.4" y1="407.07" x2="54.4" y2="407.07" stroke="#737373" stroke-width="0.85"/>
<line x1="52.4" y1="405.92" x2="54.4" y2="405.92" stroke="#737373" stroke-width="0.85"/>
<line x1="52.4" y1="404.91" x2="54.4" y2="404.91" stroke="#737373" stroke-width="0.85"/>
<line x1="51" y1="404" x2="54.4" y2="404" stroke="#737373" stroke-width="1"/>
<line x1="54.4" y1="503.2" x2="54.4" y2="507.2" stroke="#737373" stroke-width="1"/>
<line x1="60.6" y1="503.2" x2="60.6" y2="505.2" stroke="#737373" stroke-width="0.8"/>
<line x1="66.8" y1="503.2" x2="66.8" y2="505.2" stroke="#737373" stroke-width="0.8"/>
<line x1="73" y1="503.2" x2="73" y2="505.2" stroke="#737373" stroke-width="0.8"/>
<line x1="79.2" y1="503.2" x2="79.2" y2="505.2" stroke="#737373" stroke-width="0.8"/>
<line x1="85.4" y1="503.2" x2="85.4" y2="505.2" stroke="#737373" stroke-width="0.8"/>
<line x1="91.6" y1="503.2" x2="91.6" y2="505.2" stroke="#737373" stroke-width="0.8"/>
<line x1="97.8" y1="503.2" x2="97.8" y2="507.2" stroke="#737373" stroke-width="1"/>
<line x1="104" y1="503.2" x2="104" y2="505.2" stroke="#737373" stroke-width="0.8"/>
<line x1="110.2" y1="503.2" x2="110.2" y2="505.2" stroke="#737373" stroke-width="0.8"/>
<line x1="116.4" y1="503.2" x2="116.4" y2="505.2" stroke="#737373" stroke-width="0.8"/>
<line x1="122.6" y1="503.2" x2="122.6" y2="505.2" stroke="#737373" stroke-width="0.8"/>
<line x1="128.8" y1="503.2" x2="128.8" y2="505.2" stroke="#737373" stroke-width="0.8"/>
<line x1="135" y1="503.2" x2="135" y2="505.2" stroke="#737373" stroke-width="0.8"/>
<line x1="141.2" y1="503.2" x2="141.2" y2="507.2" stroke="#737373" stroke-width="1"/>
<line x1="147.4" y1="503.2" x2="147.4" y2="505.2" stroke="#737373" stroke-width="0.8"/>
<line x1="153.6" y1="503.2" x2="153.6" y2="505.2" stroke="#737373" stroke-width="0.8"/>
<line x1="159.8" y1="503.2" x2="159.8" y2="505.2" stroke="#737373" stroke-width="0.8"/>
<line x1="166" y1="503.2" x2="166" y2="505.2" stroke="#737373" stroke-width="0.8"/>
<line x1="172.2" y1="503.2" x2="172.2" y2="505.2" stroke="#737373" stroke-width="0.8"/>
<line x1="178.4" y1="503.2" x2="178.4" y2="505.2" stroke="#737373" stroke-width="0.8"/>
<line x1="184.6" y1="503.2" x2="184.6" y2="507.2" stroke="#737373" stroke-width="1"/>
<text x="49" y="505.8" font-size="7.35" fill="#666" font-weight="normal" font-style="normal" text-anchor="end" >0.1</text>
<text x="49" y="485.96" font-size="7.35" fill="#666" font-weight="normal" font-style="normal" text-anchor="end" >1</text>
<text x="49" y="466.12" font-size="7.35" fill="#666" font-weight="normal" font-style="normal" text-anchor="end" >10</text>
<text x="49" y="446.28" font-size="7.35" fill="#666" font-weight="normal" font-style="normal" text-anchor="end" >100</text>
<text x="49" y="426.44" font-size="7.35" fill="#666" font-weight="normal" font-style="normal" text-anchor="end" >1,000</text>
<text x="49" y="406.6" font-size="7.35" fill="#666" font-weight="normal" font-style="normal" text-anchor="end" >10,000</text>
<text x="54.4" y="514.3" font-size="7.35" fill="#666" font-weight="normal" font-style="normal" text-anchor="middle" >0</text>
<text x="97.8" y="514.3" font-size="7.35" fill="#666" font-weight="normal" font-style="normal" text-anchor="middle" >7</text>
<text x="141.2" y="514.3" font-size="7.35" fill="#666" font-weight="normal" font-style="normal" text-anchor="middle" >14</text>
<text x="184.6" y="514.3" font-size="7.35" fill="#666" font-weight="normal" font-style="normal" text-anchor="middle" >21</text>
<text x="119.5" y="523.4" font-size="7.4" fill="#666" font-weight="normal" font-style="normal" text-anchor="middle" >Time after dose (days)</text>
<text transform="translate(25.6,453.6) rotate(-90)" font-size="7.6" fill="#666" text-anchor="middle">Concentration (nmol/L)</text>
<line x1="349.1" y1="403.6" x2="349.1" y2="506.8" stroke="#737373" stroke-width="1"/>
<line x1="345.7" y1="502.8" x2="479.7" y2="502.8" stroke="#737373" stroke-width="1"/>
<line x1="345.7" y1="502.8" x2="349.1" y2="502.8" stroke="#737373" stroke-width="1"/>
<line x1="347.1" y1="496.83" x2="349.1" y2="496.83" stroke="#737373" stroke-width="0.85"/>
<line x1="347.1" y1="493.33" x2="349.1" y2="493.33" stroke="#737373" stroke-width="0.85"/>
<line x1="347.1" y1="490.86" x2="349.1" y2="490.86" stroke="#737373" stroke-width="0.85"/>
<line x1="347.1" y1="488.93" x2="349.1" y2="488.93" stroke="#737373" stroke-width="0.85"/>
<line x1="347.1" y1="487.36" x2="349.1" y2="487.36" stroke="#737373" stroke-width="0.85"/>
<line x1="347.1" y1="486.03" x2="349.1" y2="486.03" stroke="#737373" stroke-width="0.85"/>
<line x1="347.1" y1="484.88" x2="349.1" y2="484.88" stroke="#737373" stroke-width="0.85"/>
<line x1="347.1" y1="483.87" x2="349.1" y2="483.87" stroke="#737373" stroke-width="0.85"/>
<line x1="345.7" y1="482.96" x2="349.1" y2="482.96" stroke="#737373" stroke-width="1"/>
<line x1="347.1" y1="476.99" x2="349.1" y2="476.99" stroke="#737373" stroke-width="0.85"/>
<line x1="347.1" y1="473.49" x2="349.1" y2="473.49" stroke="#737373" stroke-width="0.85"/>
<line x1="347.1" y1="471.02" x2="349.1" y2="471.02" stroke="#737373" stroke-width="0.85"/>
<line x1="347.1" y1="469.09" x2="349.1" y2="469.09" stroke="#737373" stroke-width="0.85"/>
<line x1="347.1" y1="467.52" x2="349.1" y2="467.52" stroke="#737373" stroke-width="0.85"/>
<line x1="347.1" y1="466.19" x2="349.1" y2="466.19" stroke="#737373" stroke-width="0.85"/>
<line x1="347.1" y1="465.04" x2="349.1" y2="465.04" stroke="#737373" stroke-width="0.85"/>
<line x1="347.1" y1="464.03" x2="349.1" y2="464.03" stroke="#737373" stroke-width="0.85"/>
<line x1="345.7" y1="463.12" x2="349.1" y2="463.12" stroke="#737373" stroke-width="1"/>
<line x1="347.1" y1="457.15" x2="349.1" y2="457.15" stroke="#737373" stroke-width="0.85"/>
<line x1="347.1" y1="453.65" x2="349.1" y2="453.65" stroke="#737373" stroke-width="0.85"/>
<line x1="347.1" y1="451.18" x2="349.1" y2="451.18" stroke="#737373" stroke-width="0.85"/>
<line x1="347.1" y1="449.25" x2="349.1" y2="449.25" stroke="#737373" stroke-width="0.85"/>
<line x1="347.1" y1="447.68" x2="349.1" y2="447.68" stroke="#737373" stroke-width="0.85"/>
<line x1="347.1" y1="446.35" x2="349.1" y2="446.35" stroke="#737373" stroke-width="0.85"/>
<line x1="347.1" y1="445.2" x2="349.1" y2="445.2" stroke="#737373" stroke-width="0.85"/>
<line x1="347.1" y1="444.19" x2="349.1" y2="444.19" stroke="#737373" stroke-width="0.85"/>
<line x1="345.7" y1="443.28" x2="349.1" y2="443.28" stroke="#737373" stroke-width="1"/>
<line x1="347.1" y1="437.31" x2="349.1" y2="437.31" stroke="#737373" stroke-width="0.85"/>
<line x1="347.1" y1="433.81" x2="349.1" y2="433.81" stroke="#737373" stroke-width="0.85"/>
<line x1="347.1" y1="431.34" x2="349.1" y2="431.34" stroke="#737373" stroke-width="0.85"/>
<line x1="347.1" y1="429.41" x2="349.1" y2="429.41" stroke="#737373" stroke-width="0.85"/>
<line x1="347.1" y1="427.84" x2="349.1" y2="427.84" stroke="#737373" stroke-width="0.85"/>
<line x1="347.1" y1="426.51" x2="349.1" y2="426.51" stroke="#737373" stroke-width="0.85"/>
<line x1="347.1" y1="425.36" x2="349.1" y2="425.36" stroke="#737373" stroke-width="0.85"/>
<line x1="347.1" y1="424.35" x2="349.1" y2="424.35" stroke="#737373" stroke-width="0.85"/>
<line x1="345.7" y1="423.44" x2="349.1" y2="423.44" stroke="#737373" stroke-width="1"/>
<line x1="347.1" y1="417.47" x2="349.1" y2="417.47" stroke="#737373" stroke-width="0.85"/>
<line x1="347.1" y1="413.97" x2="349.1" y2="413.97" stroke="#737373" stroke-width="0.85"/>
<line x1="347.1" y1="411.5" x2="349.1" y2="411.5" stroke="#737373" stroke-width="0.85"/>
<line x1="347.1" y1="409.57" x2="349.1" y2="409.57" stroke="#737373" stroke-width="0.85"/>
<line x1="347.1" y1="408" x2="349.1" y2="408" stroke="#737373" stroke-width="0.85"/>
<line x1="347.1" y1="406.67" x2="349.1" y2="406.67" stroke="#737373" stroke-width="0.85"/>
<line x1="347.1" y1="405.52" x2="349.1" y2="405.52" stroke="#737373" stroke-width="0.85"/>
<line x1="347.1" y1="404.51" x2="349.1" y2="404.51" stroke="#737373" stroke-width="0.85"/>
<line x1="345.7" y1="403.6" x2="349.1" y2="403.6" stroke="#737373" stroke-width="1"/>
<line x1="349.1" y1="502.8" x2="349.1" y2="506.8" stroke="#737373" stroke-width="1"/>
<line x1="355.3" y1="502.8" x2="355.3" y2="504.8" stroke="#737373" stroke-width="0.8"/>
<line x1="361.5" y1="502.8" x2="361.5" y2="504.8" stroke="#737373" stroke-width="0.8"/>
<line x1="367.7" y1="502.8" x2="367.7" y2="504.8" stroke="#737373" stroke-width="0.8"/>
<line x1="373.9" y1="502.8" x2="373.9" y2="504.8" stroke="#737373" stroke-width="0.8"/>
<line x1="380.1" y1="502.8" x2="380.1" y2="504.8" stroke="#737373" stroke-width="0.8"/>
<line x1="386.3" y1="502.8" x2="386.3" y2="504.8" stroke="#737373" stroke-width="0.8"/>
<line x1="392.5" y1="502.8" x2="392.5" y2="506.8" stroke="#737373" stroke-width="1"/>
<line x1="398.7" y1="502.8" x2="398.7" y2="504.8" stroke="#737373" stroke-width="0.8"/>
<line x1="404.9" y1="502.8" x2="404.9" y2="504.8" stroke="#737373" stroke-width="0.8"/>
<line x1="411.1" y1="502.8" x2="411.1" y2="504.8" stroke="#737373" stroke-width="0.8"/>
<line x1="417.3" y1="502.8" x2="417.3" y2="504.8" stroke="#737373" stroke-width="0.8"/>
<line x1="423.5" y1="502.8" x2="423.5" y2="504.8" stroke="#737373" stroke-width="0.8"/>
<line x1="429.7" y1="502.8" x2="429.7" y2="504.8" stroke="#737373" stroke-width="0.8"/>
<line x1="435.9" y1="502.8" x2="435.9" y2="506.8" stroke="#737373" stroke-width="1"/>
<line x1="442.1" y1="502.8" x2="442.1" y2="504.8" stroke="#737373" stroke-width="0.8"/>
<line x1="448.3" y1="502.8" x2="448.3" y2="504.8" stroke="#737373" stroke-width="0.8"/>
<line x1="454.5" y1="502.8" x2="454.5" y2="504.8" stroke="#737373" stroke-width="0.8"/>
<line x1="460.7" y1="502.8" x2="460.7" y2="504.8" stroke="#737373" stroke-width="0.8"/>
<line x1="466.9" y1="502.8" x2="466.9" y2="504.8" stroke="#737373" stroke-width="0.8"/>
<line x1="473.1" y1="502.8" x2="473.1" y2="504.8" stroke="#737373" stroke-width="0.8"/>
<line x1="479.3" y1="502.8" x2="479.3" y2="506.8" stroke="#737373" stroke-width="1"/>
<text x="343.7" y="505.4" font-size="7.35" fill="#666" font-weight="normal" font-style="normal" text-anchor="end" >0.1</text>
<text x="343.7" y="485.56" font-size="7.35" fill="#666" font-weight="normal" font-style="normal" text-anchor="end" >1</text>
<text x="343.7" y="465.72" font-size="7.35" fill="#666" font-weight="normal" font-style="normal" text-anchor="end" >10</text>
<text x="343.7" y="445.88" font-size="7.35" fill="#666" font-weight="normal" font-style="normal" text-anchor="end" >100</text>
<text x="343.7" y="426.04" font-size="7.35" fill="#666" font-weight="normal" font-style="normal" text-anchor="end" >1,000</text>
<text x="343.7" y="406.2" font-size="7.35" fill="#666" font-weight="normal" font-style="normal" text-anchor="end" >10,000</text>
<text x="349.1" y="513.9" font-size="7.35" fill="#666" font-weight="normal" font-style="normal" text-anchor="middle" >0</text>
<text x="392.5" y="513.9" font-size="7.35" fill="#666" font-weight="normal" font-style="normal" text-anchor="middle" >7</text>
<text x="435.9" y="513.9" font-size="7.35" fill="#666" font-weight="normal" font-style="normal" text-anchor="middle" >14</text>
<text x="479.3" y="513.9" font-size="7.35" fill="#666" font-weight="normal" font-style="normal" text-anchor="middle" >21</text>
<text x="414.2" y="523" font-size="7.4" fill="#666" font-weight="normal" font-style="normal" text-anchor="middle" >Time after dose (days)</text>
<text transform="translate(320.3,453.2) rotate(-90)" font-size="7.6" fill="#666" text-anchor="middle">Concentration (nmol/L)</text>
<polyline points="54.6,265.2 55.9,266.5 57.2,268.1 58.9,270.1 61.5,271.8 73.2,277.3 98.1,285.5 141.2,297.4 185,306.7" fill="none" stroke="#151515" stroke-width="1.15" stroke-linejoin="round"/>
<circle cx="54.6" cy="265.2" r="2.2" fill="#151515"/><circle cx="55.9" cy="266.5" r="2.2" fill="#151515"/><circle cx="57.2" cy="268.1" r="2.2" fill="#151515"/><circle cx="58.9" cy="270.1" r="2.2" fill="#151515"/><circle cx="61.5" cy="271.8" r="2.2" fill="#151515"/><circle cx="73.2" cy="277.3" r="2.2" fill="#151515"/><circle cx="98.1" cy="285.5" r="2.2" fill="#151515"/><circle cx="141.2" cy="297.4" r="2.2" fill="#151515"/><circle cx="185" cy="306.7" r="2.2" fill="#151515"/>
<polyline points="54.6,305.5 55.9,300.2 57.9,300.2 59.8,300.9 61.8,302.4 73.2,306.8 98.1,314 141.2,325.5 185,336.7" fill="none" stroke="#1f40ff" stroke-width="1.15" stroke-linejoin="round"/>
<circle cx="54.6" cy="305.5" r="2.2" fill="#1f40ff"/><circle cx="55.9" cy="300.2" r="2.2" fill="#1f40ff"/><circle cx="57.9" cy="300.2" r="2.2" fill="#1f40ff"/><circle cx="59.8" cy="300.9" r="2.2" fill="#1f40ff"/><circle cx="61.8" cy="302.4" r="2.2" fill="#1f40ff"/><circle cx="73.2" cy="306.8" r="2.2" fill="#1f40ff"/><circle cx="98.1" cy="314" r="2.2" fill="#1f40ff"/><circle cx="141.2" cy="325.5" r="2.2" fill="#1f40ff"/><circle cx="185" cy="336.7" r="2.2" fill="#1f40ff"/>
<polyline points="55.1,434.3 56.2,435.8 60.7,438.8 66.8,441.7 73,444.4 97.9,450.7 116.7,454.6 141.2,458.3 160.4,460.8 185.4,463.8" fill="none" stroke="#151515" stroke-width="1.15" stroke-linejoin="round"/>
<circle cx="55.1" cy="434.3" r="2.2" fill="#151515"/><circle cx="56.2" cy="435.8" r="2.2" fill="#151515"/><circle cx="60.7" cy="438.8" r="2.2" fill="#151515"/><circle cx="66.8" cy="441.7" r="2.2" fill="#151515"/><circle cx="73" cy="444.4" r="2.2" fill="#151515"/><circle cx="97.9" cy="450.7" r="2.2" fill="#151515"/><circle cx="116.7" cy="454.6" r="2.2" fill="#151515"/><circle cx="141.2" cy="458.3" r="2.2" fill="#151515"/><circle cx="160.4" cy="460.8" r="2.2" fill="#151515"/><circle cx="185.4" cy="463.8" r="2.2" fill="#151515"/>
<polyline points="55.1,483 56.2,474 60.7,467.2 66.8,464.8 73,464.3 97.9,469.7 116.7,475.6 141.2,482.3 160.4,487.3 185.4,495.8" fill="none" stroke="#1f40ff" stroke-width="1.15" stroke-linejoin="round"/>
<circle cx="55.1" cy="483" r="2.2" fill="#1f40ff"/><circle cx="56.2" cy="474" r="2.2" fill="#1f40ff"/><circle cx="60.7" cy="467.2" r="2.2" fill="#1f40ff"/><circle cx="66.8" cy="464.8" r="2.2" fill="#1f40ff"/><circle cx="73" cy="464.3" r="2.2" fill="#1f40ff"/><circle cx="97.9" cy="469.7" r="2.2" fill="#1f40ff"/><circle cx="116.7" cy="475.6" r="2.2" fill="#1f40ff"/><circle cx="141.2" cy="482.3" r="2.2" fill="#1f40ff"/><circle cx="160.4" cy="487.3" r="2.2" fill="#1f40ff"/><circle cx="185.4" cy="495.8" r="2.2" fill="#1f40ff"/>
<polyline points="348.95,271.3 349.95,272.92 349.35,274.53 350.35,276.15 349.75,277.76 350.75,279.38 350.15,280.99 351.15,282.61 350.55,284.22 351.55,285.84 350.95,287.45 351.95,289.07 351.35,290.68 352.35,292.3 355.3,304.2 361.2,316.6" fill="none" stroke="#0c1e95" stroke-width="1.1" stroke-linejoin="round"/>
<circle cx="348.95" cy="271.3" r="2.0" fill="#0c1e95"/><circle cx="349.95" cy="272.92" r="2.0" fill="#0c1e95"/><circle cx="349.35" cy="274.53" r="2.0" fill="#0c1e95"/><circle cx="350.35" cy="276.15" r="2.0" fill="#0c1e95"/><circle cx="349.75" cy="277.76" r="2.0" fill="#0c1e95"/><circle cx="350.75" cy="279.38" r="2.0" fill="#0c1e95"/><circle cx="350.15" cy="280.99" r="2.0" fill="#0c1e95"/><circle cx="351.15" cy="282.61" r="2.0" fill="#0c1e95"/><circle cx="350.55" cy="284.22" r="2.0" fill="#0c1e95"/><circle cx="351.55" cy="285.84" r="2.0" fill="#0c1e95"/><circle cx="350.95" cy="287.45" r="2.0" fill="#0c1e95"/><circle cx="351.95" cy="289.07" r="2.0" fill="#0c1e95"/><circle cx="351.35" cy="290.68" r="2.0" fill="#0c1e95"/><circle cx="352.35" cy="292.3" r="2.0" fill="#0c1e95"/><circle cx="355.3" cy="304.2" r="2.0" fill="#0c1e95"/><circle cx="361.2" cy="316.6" r="2.0" fill="#0c1e95"/>
<polyline points="348.8,446.2 348.8,453 348.8,458.9 349.1,460.3 349.5,464.9 349.8,467.3 350.7,470.8 352.4,479.2 355.4,488.3 361.3,499.8" fill="none" stroke="#0c1e95" stroke-width="1.1" stroke-linejoin="round"/>
<circle cx="348.8" cy="446.2" r="2.1" fill="#0c1e95"/><circle cx="348.8" cy="453" r="2.1" fill="#0c1e95"/><circle cx="348.8" cy="458.9" r="2.1" fill="#0c1e95"/><circle cx="349.1" cy="460.3" r="2.1" fill="#0c1e95"/><circle cx="349.5" cy="464.9" r="2.1" fill="#0c1e95"/><circle cx="349.8" cy="467.3" r="2.1" fill="#0c1e95"/><circle cx="350.7" cy="470.8" r="2.1" fill="#0c1e95"/><circle cx="352.4" cy="479.2" r="2.1" fill="#0c1e95"/><circle cx="355.4" cy="488.3" r="2.1" fill="#0c1e95"/><circle cx="361.3" cy="499.8" r="2.1" fill="#0c1e95"/>
<text x="266.3" y="256.1" font-size="6.6" fill="#000" font-weight="normal" font-style="normal" text-anchor="start" stroke="#000" stroke-width="0.08">B1</text>
<text x="490.2" y="256.1" font-size="6.6" fill="#000" font-weight="normal" font-style="normal" text-anchor="start" stroke="#000" stroke-width="0.08">B3</text>
<text x="266.3" y="410" font-size="6.6" fill="#000" font-weight="normal" font-style="normal" text-anchor="start" stroke="#000" stroke-width="0.08">B2</text>
<text x="490.2" y="409.8" font-size="6.6" fill="#000" font-weight="normal" font-style="normal" text-anchor="start" stroke="#000" stroke-width="0.08">B4</text>
<g filter="url(#tex)"><ellipse cx="241.3" cy="249.8" rx="7.4" ry="7.2" transform="rotate(30 241.3 249.8)" fill="#000"/><path d="M238.8,254.8 L238.1,260.8 L239.7,265.4 L243.7,265.4 L242.8,255.8 Z" fill="#000"/><ellipse cx="223.2" cy="265.5" rx="9.2" ry="6.6" transform="rotate(-18 223.2 265.5)" fill="#000"/><path d="M230.2,263 L235.7,267.4 L234.7,271.4 L230.2,267.5 Z" fill="#000"/><ellipse cx="242.7" cy="273.4" rx="10.4" ry="9.2" transform="rotate(25 242.7 273.4)" fill="#000"/><path d="M239.2,280.4 L239.2,285.9 L243.7,286.4 L243.7,280.4 Z" fill="#000"/></g>
<ellipse cx="242.3" cy="273.8" rx="2.2" ry="2.0" fill="#fff" opacity="0.8"/>
<ellipse cx="223.2" cy="265.5" rx="1.8" ry="1.2" fill="#fff" opacity="0.45"/>
<ellipse cx="241.3" cy="250.3" rx="1.6" ry="1.2" fill="#fff" opacity="0.45"/>
<text x="207.8" y="294.9" font-size="8.0" fill="#0a0a0a" font-weight="normal" font-style="normal" text-anchor="start" stroke="#0a0a0a" stroke-width="0.08">Total antibody</text>
<polygon points="227.4,319.9 230.95,321.95 230.95,326.05 227.4,328.1 223.85,326.05 223.85,321.95" fill="none" stroke="#1f40ff" stroke-width="0.72" stroke-linejoin="round"/>
<polygon points="230.95,313.75 234.5,315.8 234.5,319.9 230.95,321.95 227.4,319.9 227.4,315.8" fill="none" stroke="#1f40ff" stroke-width="0.72" stroke-linejoin="round"/>
<polygon points="234.5,319.9 238.05,321.95 238.05,326.05 234.5,328.1 230.95,326.05 230.95,321.95" fill="none" stroke="#1f40ff" stroke-width="0.72" stroke-linejoin="round"/>
<line x1="229.89" y1="322.56" x2="229.89" y2="325.44" stroke="#1f40ff" stroke-width="0.5"/><line x1="227.4" y1="326.87" x2="224.91" y2="325.44" stroke="#1f40ff" stroke-width="0.5"/>
<polygon points="238.05,321.95 241.95,321.05 243.69,324 241.95,326.95 238.05,326.05" fill="none" stroke="#1f40ff" stroke-width="0.72" stroke-linejoin="round"/>
<polygon points="249.64,322.7 251.69,326.25 249.64,329.81 245.54,329.81 243.49,326.25 245.54,322.7" fill="none" stroke="#1f40ff" stroke-width="0.72" stroke-linejoin="round"/>
<polygon points="254.76,328.24 256.81,331.79 254.76,335.34 250.66,335.34 248.61,331.79 250.66,328.24" fill="none" stroke="#1f40ff" stroke-width="0.72" stroke-linejoin="round"/>
<line x1="223.85" y1="326.05" x2="220.85" y2="324.85" stroke="#1f40ff" stroke-width="0.72"/><line x1="227.4" y1="328.1" x2="225.2" y2="329.7" stroke="#1f40ff" stroke-width="0.72"/>
<text x="219.35" y="325.85" font-size="2.8" fill="#1f40ff" font-weight="bold" text-anchor="middle">Me</text>
<text x="224.4" y="331.3" font-size="3.0" fill="#1f40ff" font-weight="bold" text-anchor="middle">F</text>
<text x="234.5" y="329.3" font-size="2.6" fill="#1f40ff" font-weight="bold" text-anchor="middle">N</text>
<line x1="234.5" y1="315.8" x2="235.7" y2="314.2" stroke="#1f40ff" stroke-width="0.72"/><line x1="236.5" y1="312.6" x2="236.2" y2="310" stroke="#1f40ff" stroke-width="0.72"/><line x1="236.2" y1="310" x2="232.7" y2="308" stroke="#1f40ff" stroke-width="0.72"/><line x1="236.2" y1="310" x2="239.7" y2="308.2" stroke="#1f40ff" stroke-width="0.72"/><line x1="239.7" y1="308.2" x2="243.2" y2="309.7" stroke="#1f40ff" stroke-width="0.72"/>
<text x="236.9" y="314.6" font-size="2.6" fill="#1f40ff" font-weight="bold" text-anchor="middle">NH</text>
<text x="232.1" y="308.2" font-size="2.6" fill="#1f40ff" font-weight="bold" text-anchor="middle">O</text>
<text x="245.1" y="310.6" font-size="2.6" fill="#1f40ff" font-weight="bold" text-anchor="middle">OH</text>
<line x1="249.64" y1="322.7" x2="251.44" y2="320.1" stroke="#1f40ff" stroke-width="0.72"/>
<text x="252.24" y="319.9" font-size="2.6" fill="#1f40ff" font-weight="bold" text-anchor="middle">O</text>
<text x="257.41" y="332.89" font-size="2.6" fill="#1f40ff" font-weight="bold" text-anchor="middle">O</text>
<line x1="254.76" y1="335.34" x2="255.96" y2="337.94" stroke="#1f40ff" stroke-width="0.72"/>
<text x="256.36" y="340.14" font-size="2.6" fill="#1f40ff" font-weight="bold" text-anchor="middle">O</text>
<line x1="250.66" y1="335.34" x2="247.66" y2="335.74" stroke="#1f40ff" stroke-width="0.72"/><line x1="250.66" y1="335.34" x2="250.96" y2="338.84" stroke="#1f40ff" stroke-width="0.72"/><line x1="250.96" y1="338.84" x2="253.16" y2="340.84" stroke="#1f40ff" stroke-width="0.72"/>
<text x="246.06" y="336.74" font-size="2.6" fill="#1f40ff" font-weight="bold" text-anchor="middle">HO</text>
<text x="243.69" y="326.45" font-size="2.6" fill="#1f40ff" font-weight="bold" text-anchor="middle">N</text>
<text x="205.7" y="349.3" font-size="7.95" fill="#1f40ff" font-weight="normal" font-style="normal" text-anchor="start" stroke="#1f40ff" stroke-width="0.2">Released payload</text>
<g filter="url(#tex)"><ellipse cx="241.6" cy="406.9" rx="7" ry="6.9" transform="rotate(30 241.6 406.9)" fill="#000"/><path d="M239.1,411.9 L238.4,417.9 L240.1,424 L244.1,424 L243.1,412.9 Z" fill="#000"/><ellipse cx="223.3" cy="423" rx="8.9" ry="7" transform="rotate(-18 223.3 423)" fill="#000"/><path d="M230.3,420.5 L236.1,426 L235.1,430 L230.3,425 Z" fill="#000"/><ellipse cx="243.1" cy="432" rx="10.4" ry="10.2" transform="rotate(25 243.1 432)" fill="#000"/><path d="M239.6,439 L239.6,444.5 L244.1,445 L244.1,439 Z" fill="#000"/></g>
<ellipse cx="242.7" cy="432.4" rx="2.2" ry="2.0" fill="#fff" opacity="0.8"/>
<ellipse cx="223.3" cy="423" rx="1.8" ry="1.2" fill="#fff" opacity="0.45"/>
<ellipse cx="241.6" cy="407.4" rx="1.6" ry="1.2" fill="#fff" opacity="0.45"/>
<text x="202.3" y="453.8" font-size="8.0" fill="#0a0a0a" font-weight="normal" font-style="normal" text-anchor="start" stroke="#0a0a0a" stroke-width="0.08">Total antibody</text>
<polyline points="201.2,484.2 204.8,486.2 208.4,484.2 212,486.2 215.6,484.2 219.2,486.2 222.8,484.2 226.4,486.2 230,484.2 233.6,486.2 237.2,484.2 240.8,486.2" fill="none" stroke="#1f40ff" stroke-width="0.72" stroke-linejoin="round"/>
<line x1="208.4" y1="484.2" x2="208.4" y2="480.2" stroke="#1f40ff" stroke-width="0.72"/><line x1="208.4" y1="480.2" x2="205.2" y2="478.6" stroke="#1f40ff" stroke-width="0.72"/><line x1="208.4" y1="480.2" x2="211.6" y2="478.6" stroke="#1f40ff" stroke-width="0.72"/><line x1="212" y1="486.2" x2="212" y2="490.4" stroke="#1f40ff" stroke-width="0.72"/><line x1="212.6" y1="486.2" x2="212.6" y2="490.4" stroke="#1f40ff" stroke-width="0.72"/><line x1="219.2" y1="486.2" x2="219.2" y2="489.9" stroke="#1f40ff" stroke-width="0.72"/><line x1="219.2" y1="489.9" x2="216.4" y2="492.7" stroke="#1f40ff" stroke-width="0.72"/><line x1="219.2" y1="489.9" x2="222.4" y2="492.7" stroke="#1f40ff" stroke-width="0.72"/><line x1="222.8" y1="484.2" x2="222.8" y2="480.2" stroke="#1f40ff" stroke-width="0.72"/><line x1="223.4" y1="484.2" x2="223.4" y2="480.2" stroke="#1f40ff" stroke-width="0.72"/><line x1="226.4" y1="486.2" x2="226.4" y2="489.9" stroke="#1f40ff" stroke-width="0.72"/><line x1="230" y1="484.2" x2="230" y2="480.2" stroke="#1f40ff" stroke-width="0.72"/><line x1="230" y1="480.2" x2="226.8" y2="478.6" stroke="#1f40ff" stroke-width="0.72"/><line x1="230" y1="480.2" x2="233.6" y2="478.6" stroke="#1f40ff" stroke-width="0.72"/><line x1="233.6" y1="478.6" x2="233.6" y2="474.6" stroke="#1f40ff" stroke-width="0.72"/><line x1="233.6" y1="486.2" x2="233.6" y2="490.3" stroke="#1f40ff" stroke-width="0.72"/><line x1="233.6" y1="490.3" x2="236.9" y2="492.7" stroke="#1f40ff" stroke-width="0.72"/><line x1="240.8" y1="486.2" x2="240.8" y2="490.6" stroke="#1f40ff" stroke-width="0.72"/><line x1="241.4" y1="486.2" x2="241.4" y2="490.6" stroke="#1f40ff" stroke-width="0.72"/>
<text x="204.8" y="487.3" font-size="2.6" fill="#1f40ff" font-weight="bold" text-anchor="middle">N</text>
<text x="204.2" y="490.8" font-size="2.4" fill="#1f40ff" font-weight="bold" text-anchor="middle">H</text>
<text x="215.6" y="485.2" font-size="2.6" fill="#1f40ff" font-weight="bold" text-anchor="middle">N</text>
<text x="215.6" y="482.4" font-size="2.4" fill="#1f40ff" font-weight="bold" text-anchor="middle">H</text>
<text x="226.4" y="487.3" font-size="2.6" fill="#1f40ff" font-weight="bold" text-anchor="middle">N</text>
<text x="212.3" y="492.4" font-size="2.6" fill="#1f40ff" font-weight="bold" text-anchor="middle">O</text>
<text x="223.1" y="480" font-size="2.6" fill="#1f40ff" font-weight="bold" text-anchor="middle">O</text>
<text x="233.6" y="491.4" font-size="2.4" fill="#1f40ff" font-weight="bold" text-anchor="middle">O</text>
<text x="241.1" y="492.6" font-size="2.6" fill="#1f40ff" font-weight="bold" text-anchor="middle">O</text>
<text x="244.5" y="485.6" font-size="2.6" fill="#1f40ff" font-weight="bold" text-anchor="middle">N</text>
<line x1="240.8" y1="486.2" x2="243.9" y2="485.1" stroke="#1f40ff" stroke-width="0.72"/>
<polygon points="244.5,484.6 244.9,480.6 248.6,479.4 251.4,482.6 248.6,485.8" fill="none" stroke="#1f40ff" stroke-width="0.72" stroke-linejoin="round"/>
<line x1="244.9" y1="480.6" x2="242.5" y2="477.8" stroke="#1f40ff" stroke-width="0.72"/><line x1="242.5" y1="477.8" x2="242.9" y2="473.7" stroke="#1f40ff" stroke-width="0.72"/><line x1="242.5" y1="477.8" x2="238.9" y2="478.8" stroke="#1f40ff" stroke-width="0.72"/><line x1="238.9" y1="478.8" x2="238.1" y2="481.2" stroke="#1f40ff" stroke-width="0.72"/><line x1="242.9" y1="473.7" x2="239.7" y2="470.5" stroke="#1f40ff" stroke-width="0.72"/><line x1="242.9" y1="473.7" x2="247.3" y2="471.3" stroke="#1f40ff" stroke-width="0.72"/><line x1="247.3" y1="471.3" x2="248.1" y2="468.1" stroke="#1f40ff" stroke-width="0.72"/><line x1="247.8" y1="471.5" x2="248.6" y2="468.3" stroke="#1f40ff" stroke-width="0.72"/><line x1="247.3" y1="471.3" x2="249.4" y2="475" stroke="#1f40ff" stroke-width="0.72"/>
<text x="239.9" y="478.4" font-size="2.4" fill="#1f40ff" font-weight="bold" text-anchor="middle">O</text>
<text x="248.4" y="467.5" font-size="2.6" fill="#1f40ff" font-weight="bold" text-anchor="middle">O</text>
<text x="249.4" y="476" font-size="2.6" fill="#1f40ff" font-weight="bold" text-anchor="middle">N</text>
<text x="249.4" y="478.6" font-size="2.4" fill="#1f40ff" font-weight="bold" text-anchor="middle">H</text>
<line x1="250.2" y1="474.6" x2="253.4" y2="473.8" stroke="#1f40ff" stroke-width="0.72"/><line x1="253.4" y1="473.8" x2="257" y2="476.2" stroke="#1f40ff" stroke-width="0.72"/><line x1="253.4" y1="473.8" x2="255.8" y2="470.2" stroke="#1f40ff" stroke-width="0.72"/><line x1="257" y1="476.2" x2="255.2" y2="479.8" stroke="#1f40ff" stroke-width="0.72"/><line x1="257" y1="476.2" x2="261.2" y2="474.2" stroke="#1f40ff" stroke-width="0.72"/>
<text x="256.8" y="470" font-size="2.6" fill="#1f40ff" font-weight="bold" text-anchor="middle">Me</text>
<text x="254.6" y="481.8" font-size="2.6" fill="#1f40ff" font-weight="bold" text-anchor="middle">HO</text>
<polygon points="268.4,473.8 266.6,476.92 263,476.92 261.2,473.8 263,470.68 266.6,470.68" fill="none" stroke="#1f40ff" stroke-width="0.72" stroke-linejoin="round"/>
<line x1="267.3" y1="473.8" x2="266.05" y2="475.97" stroke="#1f40ff" stroke-width="0.45"/><line x1="263.55" y1="475.97" x2="262.3" y2="473.8" stroke="#1f40ff" stroke-width="0.45"/><line x1="263.55" y1="471.63" x2="266.05" y2="471.63" stroke="#1f40ff" stroke-width="0.45"/>
<text x="203.6" y="506.3" font-size="7.95" fill="#1f40ff" font-weight="normal" font-style="normal" text-anchor="start" stroke="#1f40ff" stroke-width="0.2">Released payload</text>
<polygon points="436.2,296.4 439.75,298.45 439.75,302.55 436.2,304.6 432.65,302.55 432.65,298.45" fill="none" stroke="#0c1e95" stroke-width="0.72" stroke-linejoin="round"/>
<polygon points="439.75,290.25 443.3,292.3 443.3,296.4 439.75,298.45 436.2,296.4 436.2,292.3" fill="none" stroke="#0c1e95" stroke-width="0.72" stroke-linejoin="round"/>
<polygon points="443.3,296.4 446.85,298.45 446.85,302.55 443.3,304.6 439.75,302.55 439.75,298.45" fill="none" stroke="#0c1e95" stroke-width="0.72" stroke-linejoin="round"/>
<line x1="438.69" y1="299.06" x2="438.69" y2="301.94" stroke="#0c1e95" stroke-width="0.5"/><line x1="436.2" y1="303.37" x2="433.71" y2="301.94" stroke="#0c1e95" stroke-width="0.5"/>
<polygon points="446.85,298.45 450.75,297.55 452.49,300.5 450.75,303.45 446.85,302.55" fill="none" stroke="#0c1e95" stroke-width="0.72" stroke-linejoin="round"/>
<polygon points="458.44,299.2 460.49,302.75 458.44,306.31 454.34,306.31 452.29,302.75 454.34,299.2" fill="none" stroke="#0c1e95" stroke-width="0.72" stroke-linejoin="round"/>
<polygon points="463.56,304.74 465.61,308.29 463.56,311.84 459.46,311.84 457.41,308.29 459.46,304.74" fill="none" stroke="#0c1e95" stroke-width="0.72" stroke-linejoin="round"/>
<line x1="432.65" y1="302.55" x2="429.65" y2="301.35" stroke="#0c1e95" stroke-width="0.72"/><line x1="436.2" y1="304.6" x2="434" y2="306.2" stroke="#0c1e95" stroke-width="0.72"/>
<text x="428.15" y="302.35" font-size="2.8" fill="#0c1e95" font-weight="bold" text-anchor="middle">Me</text>
<text x="433.2" y="307.8" font-size="3.0" fill="#0c1e95" font-weight="bold" text-anchor="middle">F</text>
<text x="443.3" y="305.8" font-size="2.6" fill="#0c1e95" font-weight="bold" text-anchor="middle">N</text>
<line x1="443.3" y1="292.3" x2="445.7" y2="290.3" stroke="#0c1e95" stroke-width="0.72"/>
<text x="448.5" y="290.7" font-size="2.8" fill="#0c1e95" font-weight="bold" text-anchor="middle">NH₂</text>
<line x1="458.44" y1="299.2" x2="460.24" y2="296.6" stroke="#0c1e95" stroke-width="0.72"/>
<text x="461.04" y="296.4" font-size="2.6" fill="#0c1e95" font-weight="bold" text-anchor="middle">O</text>
<text x="466.21" y="309.39" font-size="2.6" fill="#0c1e95" font-weight="bold" text-anchor="middle">O</text>
<line x1="463.56" y1="311.84" x2="464.76" y2="314.44" stroke="#0c1e95" stroke-width="0.72"/>
<text x="465.16" y="316.64" font-size="2.6" fill="#0c1e95" font-weight="bold" text-anchor="middle">O</text>
<line x1="459.46" y1="311.84" x2="456.46" y2="312.24" stroke="#0c1e95" stroke-width="0.72"/><line x1="459.46" y1="311.84" x2="459.76" y2="315.34" stroke="#0c1e95" stroke-width="0.72"/><line x1="459.76" y1="315.34" x2="461.96" y2="317.34" stroke="#0c1e95" stroke-width="0.72"/>
<text x="454.86" y="313.24" font-size="2.6" fill="#0c1e95" font-weight="bold" text-anchor="middle">HO</text>
<text x="452.49" y="302.95" font-size="2.6" fill="#0c1e95" font-weight="bold" text-anchor="middle">N</text>
<text x="430.8" y="328.9" font-size="7.55" fill="#2b3fa8" font-weight="normal" font-style="normal" text-anchor="start" stroke="#2b3fa8" stroke-width="0.2">Free drug</text>
<polyline points="411.2,461.8 414.8,463.8 418.4,461.8 422,463.8 425.6,461.8 429.2,463.8 432.8,461.8 436.4,463.8 440,461.8 443.6,463.8 447.2,461.8 450.8,463.8" fill="none" stroke="#0c1e95" stroke-width="0.72" stroke-linejoin="round"/>
<line x1="418.4" y1="461.8" x2="418.4" y2="457.8" stroke="#0c1e95" stroke-width="0.72"/><line x1="418.4" y1="457.8" x2="415.2" y2="456.2" stroke="#0c1e95" stroke-width="0.72"/><line x1="418.4" y1="457.8" x2="421.6" y2="456.2" stroke="#0c1e95" stroke-width="0.72"/><line x1="422" y1="463.8" x2="422" y2="468" stroke="#0c1e95" stroke-width="0.72"/><line x1="422.6" y1="463.8" x2="422.6" y2="468" stroke="#0c1e95" stroke-width="0.72"/><line x1="429.2" y1="463.8" x2="429.2" y2="467.5" stroke="#0c1e95" stroke-width="0.72"/><line x1="429.2" y1="467.5" x2="426.4" y2="470.3" stroke="#0c1e95" stroke-width="0.72"/><line x1="429.2" y1="467.5" x2="432.4" y2="470.3" stroke="#0c1e95" stroke-width="0.72"/><line x1="432.8" y1="461.8" x2="432.8" y2="457.8" stroke="#0c1e95" stroke-width="0.72"/><line x1="433.4" y1="461.8" x2="433.4" y2="457.8" stroke="#0c1e95" stroke-width="0.72"/><line x1="436.4" y1="463.8" x2="436.4" y2="467.5" stroke="#0c1e95" stroke-width="0.72"/><line x1="440" y1="461.8" x2="440" y2="457.8" stroke="#0c1e95" stroke-width="0.72"/><line x1="440" y1="457.8" x2="436.8" y2="456.2" stroke="#0c1e95" stroke-width="0.72"/><line x1="440" y1="457.8" x2="443.6" y2="456.2" stroke="#0c1e95" stroke-width="0.72"/><line x1="443.6" y1="456.2" x2="443.6" y2="452.2" stroke="#0c1e95" stroke-width="0.72"/><line x1="443.6" y1="463.8" x2="443.6" y2="467.9" stroke="#0c1e95" stroke-width="0.72"/><line x1="443.6" y1="467.9" x2="446.9" y2="470.3" stroke="#0c1e95" stroke-width="0.72"/><line x1="450.8" y1="463.8" x2="450.8" y2="468.2" stroke="#0c1e95" stroke-width="0.72"/><line x1="451.4" y1="463.8" x2="451.4" y2="468.2" stroke="#0c1e95" stroke-width="0.72"/>
<text x="414.8" y="464.9" font-size="2.6" fill="#0c1e95" font-weight="bold" text-anchor="middle">N</text>
<text x="414.2" y="468.4" font-size="2.4" fill="#0c1e95" font-weight="bold" text-anchor="middle">H</text>
<text x="425.6" y="462.8" font-size="2.6" fill="#0c1e95" font-weight="bold" text-anchor="middle">N</text>
<text x="425.6" y="460" font-size="2.4" fill="#0c1e95" font-weight="bold" text-anchor="middle">H</text>
<text x="436.4" y="464.9" font-size="2.6" fill="#0c1e95" font-weight="bold" text-anchor="middle">N</text>
<text x="422.3" y="470" font-size="2.6" fill="#0c1e95" font-weight="bold" text-anchor="middle">O</text>
<text x="433.1" y="457.6" font-size="2.6" fill="#0c1e95" font-weight="bold" text-anchor="middle">O</text>
<text x="443.6" y="469" font-size="2.4" fill="#0c1e95" font-weight="bold" text-anchor="middle">O</text>
<text x="451.1" y="470.2" font-size="2.6" fill="#0c1e95" font-weight="bold" text-anchor="middle">O</text>
<text x="454.5" y="463.2" font-size="2.6" fill="#0c1e95" font-weight="bold" text-anchor="middle">N</text>
<line x1="450.8" y1="463.8" x2="453.9" y2="462.7" stroke="#0c1e95" stroke-width="0.72"/>
<polygon points="454.5,462.2 454.9,458.2 458.6,457 461.4,460.2 458.6,463.4" fill="none" stroke="#0c1e95" stroke-width="0.72" stroke-linejoin="round"/>
<line x1="454.9" y1="458.2" x2="452.5" y2="455.4" stroke="#0c1e95" stroke-width="0.72"/><line x1="452.5" y1="455.4" x2="452.9" y2="451.3" stroke="#0c1e95" stroke-width="0.72"/><line x1="452.5" y1="455.4" x2="448.9" y2="456.4" stroke="#0c1e95" stroke-width="0.72"/><line x1="448.9" y1="456.4" x2="448.1" y2="458.8" stroke="#0c1e95" stroke-width="0.72"/><line x1="452.9" y1="451.3" x2="449.7" y2="448.1" stroke="#0c1e95" stroke-width="0.72"/><line x1="452.9" y1="451.3" x2="457.3" y2="448.9" stroke="#0c1e95" stroke-width="0.72"/><line x1="457.3" y1="448.9" x2="458.1" y2="445.7" stroke="#0c1e95" stroke-width="0.72"/><line x1="457.8" y1="449.1" x2="458.6" y2="445.9" stroke="#0c1e95" stroke-width="0.72"/><line x1="457.3" y1="448.9" x2="459.4" y2="452.6" stroke="#0c1e95" stroke-width="0.72"/>
<text x="449.9" y="456" font-size="2.4" fill="#0c1e95" font-weight="bold" text-anchor="middle">O</text>
<text x="458.4" y="445.1" font-size="2.6" fill="#0c1e95" font-weight="bold" text-anchor="middle">O</text>
<text x="459.4" y="453.6" font-size="2.6" fill="#0c1e95" font-weight="bold" text-anchor="middle">N</text>
<text x="459.4" y="456.2" font-size="2.4" fill="#0c1e95" font-weight="bold" text-anchor="middle">H</text>
<line x1="460.2" y1="452.2" x2="465" y2="451" stroke="#0c1e95" stroke-width="0.72"/>
<polygon points="466.6,447 463.56,444.79 464.72,441.21 468.48,441.21 469.64,444.79" fill="none" stroke="#0c1e95" stroke-width="0.72" stroke-linejoin="round"/>
<line x1="465" y1="451" x2="466.6" y2="447" stroke="#0c1e95" stroke-width="0.72"/>
<text x="462.76" y="445.69" font-size="2.4" fill="#0c1e95" font-weight="bold" text-anchor="middle">N</text>
<text x="469.08" y="441.81" font-size="2.4" fill="#0c1e95" font-weight="bold" text-anchor="middle">S</text>
<line x1="465" y1="451" x2="468" y2="453.8" stroke="#0c1e95" stroke-width="0.72"/><line x1="468" y1="453.8" x2="472.4" y2="452.4" stroke="#0c1e95" stroke-width="0.72"/>
<polygon points="480,450.4 478.2,453.52 474.6,453.52 472.8,450.4 474.6,447.28 478.2,447.28" fill="none" stroke="#0c1e95" stroke-width="0.72" stroke-linejoin="round"/>
<line x1="478.9" y1="450.4" x2="477.65" y2="452.57" stroke="#0c1e95" stroke-width="0.45"/><line x1="475.15" y1="452.57" x2="473.9" y2="450.4" stroke="#0c1e95" stroke-width="0.45"/><line x1="475.15" y1="448.23" x2="477.65" y2="448.23" stroke="#0c1e95" stroke-width="0.45"/>
<text x="430.4" y="482.9" font-size="7.55" fill="#2b3fa8" font-weight="normal" font-style="normal" text-anchor="start" stroke="#2b3fa8" stroke-width="0.2">Free drug</text>
</g></svg>
</body></html>
